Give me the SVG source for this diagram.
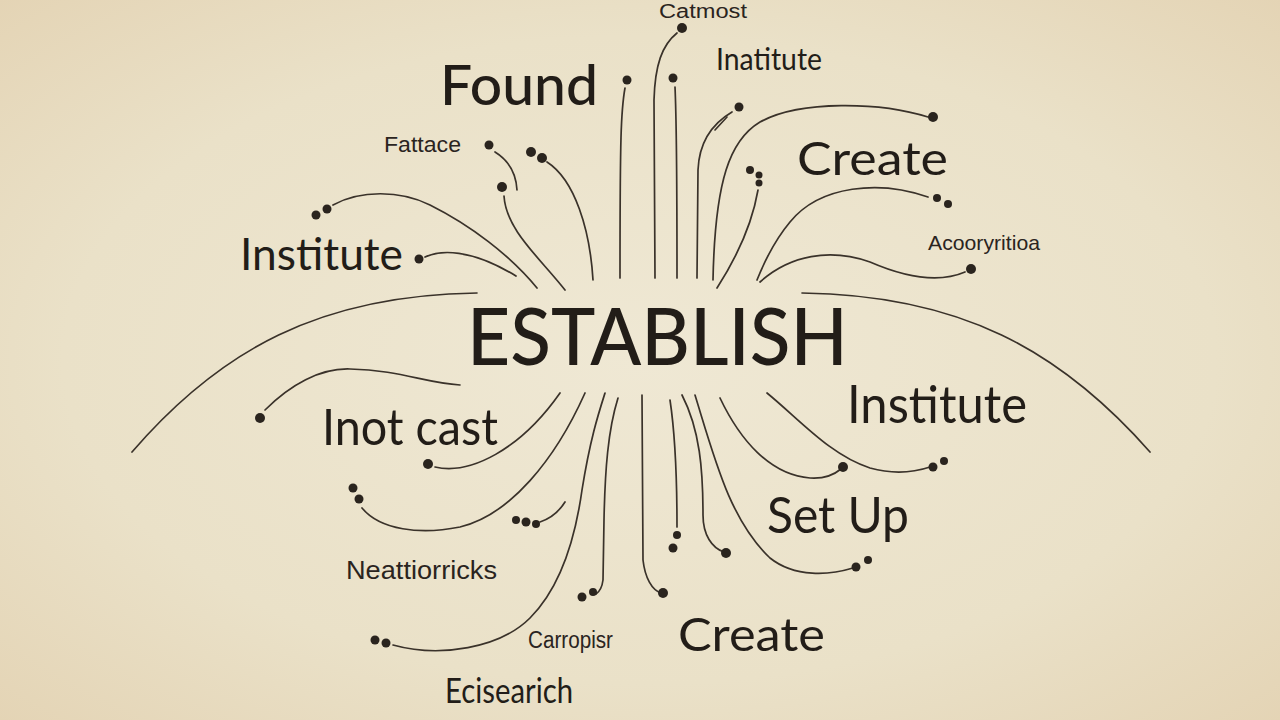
<svg xmlns="http://www.w3.org/2000/svg" width="1280" height="720" viewBox="0 0 1280 720">
<defs>
<radialGradient id="bg" cx="50%" cy="50%" r="75%">
<stop offset="0" stop-color="#efe8d4"/>
<stop offset="0.6" stop-color="#eae1c8"/>
<stop offset="1" stop-color="#e3d2b2"/>
</radialGradient>
<style>
.big{font-family:Lato,"Open Sans","Liberation Sans",sans-serif;fill:#221d18}
.sm{font-family:"Liberation Sans",Arial,sans-serif;fill:#2a241e}
.ln{fill:none;stroke:#3a322a;stroke-width:1.7;stroke-linecap:round}
.dt{fill:#2a241e}
</style>
</defs>
<rect width="1280" height="720" fill="url(#bg)"/>
<g id="connectors">
<path class="ln" d="M132,452 C220,350 320,295 477,293"/>
<path class="ln" d="M802,293 C960,295 1060,350 1150,452"/>
<path class="ln" d="M265,410 C290,385 320,368 350,369 C400,370 425,383 460,385"/>
<path class="ln" d="M425,257 C440,250 470,248 516,276"/>
<path class="ln" d="M333,205 C360,190 400,190 430,205 C470,225 510,255 537,288"/>
<path class="ln" d="M495,152 C508,160 516,172 517,190"/>
<path class="ln" d="M504,196 C506,230 540,258 565,290"/>
<path class="ln" d="M547,162 C575,180 590,230 593,280"/>
<path class="ln" d="M625,88 C621,110 620,135 620,278"/>
<path class="ln" d="M677,33 C662,45 655,65 654,100 L655,278"/>
<path class="ln" d="M675,87 C677,130 677,200 677,278"/>
<path class="ln" d="M732,112 C710,125 699,145 698,170 L697,278"/>
<path class="ln" d="M727,117 L715,130"/>
<path class="ln" d="M928,117 C880,102 800,100 760,122 C730,140 715,180 713,280"/>
<path class="ln" d="M758,190 C752,225 735,260 717,288"/>
<path class="ln" d="M928,197 C880,180 820,185 790,222 C775,240 765,260 757,280"/>
<path class="ln" d="M965,272 C935,285 900,275 870,262 C830,248 790,255 760,282"/>
<path class="ln" d="M435,467 C470,475 520,450 560,393"/>
<path class="ln" d="M362,508 C380,530 420,535 460,527 C510,515 555,460 585,393"/>
<path class="ln" d="M393,645 C440,658 500,648 530,618 C560,588 575,540 582,490 C590,440 598,415 605,393"/>
<path class="ln" d="M540,522 C552,518 560,510 565,502"/>
<path class="ln" d="M618,398 C608,430 605,470 604,520 L603,580 C602,588 599,592 596,594"/>
<path class="ln" d="M642,395 L643,560 C645,578 652,590 661,593"/>
<path class="ln" d="M670,400 C676,440 677,490 677,527"/>
<path class="ln" d="M682,395 C700,430 703,470 703,515 C703,535 712,548 724,552"/>
<path class="ln" d="M695,395 C715,460 730,520 770,558 C795,578 830,575 853,568"/>
<path class="ln" d="M720,398 C740,440 770,475 810,478 C825,479 835,474 841,469"/>
<path class="ln" d="M767,393 C800,420 830,455 870,468 C895,475 915,472 930,467"/>
</g>
<g id="dots">
<circle class="dt" cx="682" cy="28" r="5"/>
<circle class="dt" cx="627" cy="80" r="4.5"/>
<circle class="dt" cx="673" cy="78" r="4.5"/>
<circle class="dt" cx="739" cy="107" r="4.5"/>
<circle class="dt" cx="933" cy="117" r="5"/>
<circle class="dt" cx="750" cy="170" r="4"/>
<circle class="dt" cx="759" cy="175" r="3.5"/>
<circle class="dt" cx="759" cy="183" r="3.5"/>
<circle class="dt" cx="937" cy="198" r="4"/>
<circle class="dt" cx="948" cy="204" r="4"/>
<circle class="dt" cx="971" cy="269" r="5"/>
<circle class="dt" cx="489" cy="145" r="4.5"/>
<circle class="dt" cx="502" cy="187" r="5"/>
<circle class="dt" cx="531" cy="152" r="5"/>
<circle class="dt" cx="542" cy="158" r="5"/>
<circle class="dt" cx="316" cy="215" r="4.5"/>
<circle class="dt" cx="327" cy="209" r="4.5"/>
<circle class="dt" cx="419" cy="259" r="4.5"/>
<circle class="dt" cx="260" cy="418" r="5"/>
<circle class="dt" cx="428" cy="464" r="5"/>
<circle class="dt" cx="353" cy="488" r="4.5"/>
<circle class="dt" cx="359" cy="499" r="4.5"/>
<circle class="dt" cx="516" cy="520" r="4"/>
<circle class="dt" cx="526" cy="522" r="4.5"/>
<circle class="dt" cx="536" cy="524" r="4"/>
<circle class="dt" cx="375" cy="640" r="4.5"/>
<circle class="dt" cx="386" cy="643" r="4.5"/>
<circle class="dt" cx="582" cy="597" r="4.5"/>
<circle class="dt" cx="593" cy="592" r="4"/>
<circle class="dt" cx="663" cy="593" r="5"/>
<circle class="dt" cx="677" cy="535" r="4"/>
<circle class="dt" cx="673" cy="548" r="4.5"/>
<circle class="dt" cx="726" cy="553" r="5"/>
<circle class="dt" cx="843" cy="467" r="5"/>
<circle class="dt" cx="856" cy="567" r="4.5"/>
<circle class="dt" cx="868" cy="560" r="4"/>
<circle class="dt" cx="933" cy="467" r="4.5"/>
<circle class="dt" cx="944" cy="461" r="4"/>
</g>
<g id="n-establish"><text class="big" x="467" y="365" font-size="79" font-weight="500" textLength="381" lengthAdjust="spacingAndGlyphs">ESTABLISH</text></g>
<g id="n-catmost"><text class="sm" x="659" y="18" font-size="20" textLength="88" lengthAdjust="spacingAndGlyphs">Catmost</text></g>
<g id="n-found"><text class="big" x="440" y="105" font-size="56" font-weight="500" textLength="158" lengthAdjust="spacingAndGlyphs">Found</text></g>
<g id="n-inatitute"><text class="big" x="716" y="70" font-size="31" textLength="106" lengthAdjust="spacingAndGlyphs">Inatitute</text></g>
<g id="n-fattace"><text class="sm" x="384" y="152" font-size="22" textLength="77" lengthAdjust="spacingAndGlyphs">Fattace</text></g>
<g id="n-create-top"><text class="big" x="797" y="175" font-size="46" textLength="151" lengthAdjust="spacingAndGlyphs">Create</text></g>
<g id="n-acooryritioa"><text class="sm" x="928" y="250" font-size="21" textLength="112" lengthAdjust="spacingAndGlyphs">Acooryritioa</text></g>
<g id="n-institute-left"><text class="big" x="240" y="270" font-size="45" textLength="163" lengthAdjust="spacingAndGlyphs">Institute</text></g>
<g id="n-inotcast"><text class="big" x="322" y="445" font-size="51" textLength="176" lengthAdjust="spacingAndGlyphs">Inot cast</text></g>
<g id="n-institute-right"><text class="big" x="847" y="423" font-size="52" textLength="180" lengthAdjust="spacingAndGlyphs">Institute</text></g>
<g id="n-setup"><text class="big" x="767" y="533" font-size="50" textLength="142" lengthAdjust="spacingAndGlyphs">Set Up</text></g>
<g id="n-neattiorricks"><text class="sm" x="346" y="579" font-size="26" textLength="151" lengthAdjust="spacingAndGlyphs">Neattiorricks</text></g>
<g id="n-carropisr"><text class="sm" x="528" y="648" font-size="23" textLength="85" lengthAdjust="spacingAndGlyphs">Carropisr</text></g>
<g id="n-create-bottom"><text class="big" x="678" y="651" font-size="46" textLength="147" lengthAdjust="spacingAndGlyphs">Create</text></g>
<g id="n-ecisearich"><text class="big" x="445" y="703" font-size="34" textLength="128" lengthAdjust="spacingAndGlyphs">Ecisearich</text></g>
</svg>
